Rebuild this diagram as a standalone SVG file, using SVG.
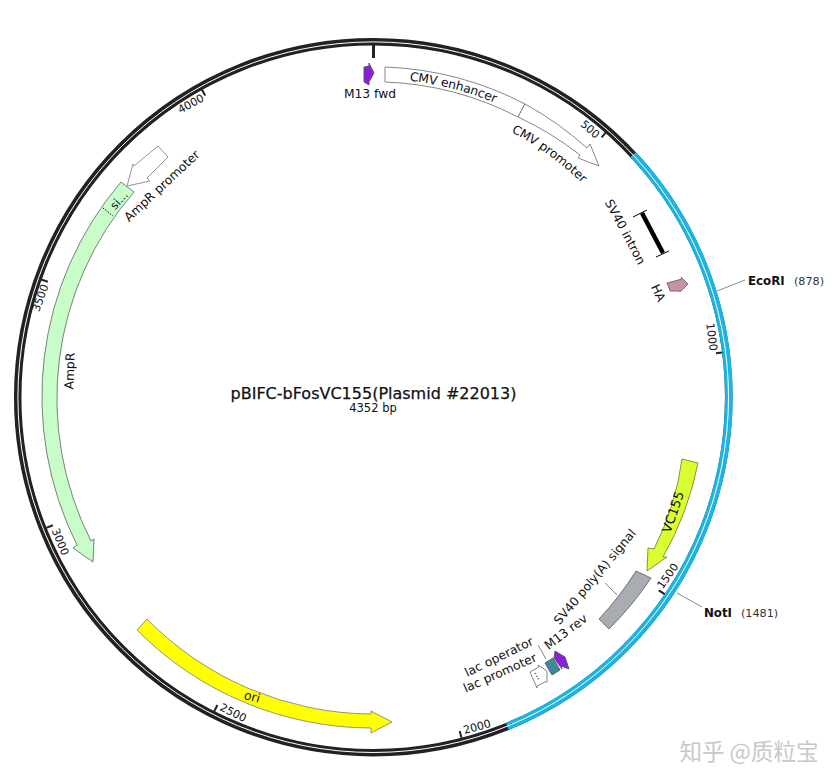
<svg xmlns="http://www.w3.org/2000/svg" width="839" height="784" viewBox="0 0 839 784">
<style>
text{font-family:"DejaVu Sans","Liberation Sans",sans-serif;font-size:12.3px;fill:#111;text-anchor:middle;dominant-baseline:central}
.tick{stroke:#222;stroke-width:2;fill:none}
.f{stroke-width:.9;stroke-linejoin:miter}
.lead{stroke:#888;stroke-width:1;fill:none}
.num{font-size:11px}
.site{font-weight:bold;font-size:11.8px;text-anchor:start}
.pos{font-size:11.2px;text-anchor:start;fill:#333}
</style>
<defs>
<path id="p-enh" d="M398.5 75.7A322.5 322.5 0 0 1 506.9 103.7"/>
<path id="p-pro" d="M505.6 124.6A303 303 0 0 1 590.8 186.3"/>
</defs>
<rect width="839" height="784" fill="#fff"/>
<g id="backbone">
<circle cx="373.2" cy="397.2" r="355.5" fill="none" stroke="#222" stroke-width="7.5"/>
<path d="M633.2 154.6A355.5 355.5 0 0 1 507.2 726.4" fill="none" stroke="#1db4e1" stroke-width="7.8"/>
<circle cx="373.2" cy="397.2" r="355.3" fill="none" stroke="#fff" stroke-width="1"/>
</g>
<g id="ticks">
<path class="tick" style="stroke-width:3" d="M373.5 45V58"/>
<path class="tick" d="M605.6 132.7L601.6 137.3M722.2 352.4L716 353.2M664.6 594.2L658.8 590.3M461.5 737.7L459.7 730.9M214.3 711.2L217.4 705M46.3 527.9L52.8 525.3M41.2 279.5L47.8 281.8M201.8 89.4L205.2 95.5"/>
<text class="num" transform="translate(590,129.5) rotate(41)">500</text>
<text class="num" transform="translate(711.5,337) rotate(83)">1000</text>
<text class="num" transform="translate(668,576) rotate(-55)">1500</text>
<text class="num" transform="translate(477,727) rotate(-15)">2000</text>
<text class="num" transform="translate(233,713) rotate(27)">2500</text>
<text class="num" transform="translate(60,542) rotate(68)">3000</text>
<text class="num" transform="translate(40.5,298) rotate(-70)">3500</text>
<text class="num" transform="translate(191,104) rotate(-29)">4000</text>
</g>
<g id="connectors">
<path class="lead" d="M717 291L745 280"/>
<path class="lead" d="M677 593L702 607"/>
<path class="lead" d="M605 583L617 595"/>
<path class="lead" d="M538 645L546 659"/>
</g>
<g id="m13-fwd">
<path class="f" fill="#8a1fe0" stroke="#555" d="M364 67L369 66L369 63L374 73L369 82L369 85L364 82Z"/>
<text x="370" y="94">M13 fwd</text>
</g>
<g id="cmv-enhancer">
<path class="f" fill="#fff" stroke="#777" d="M385 67A330 330 0 0 1 525 104L518 117A315 315 0 0 0 385 82Z"/>
<text><textPath href="#p-enh" startOffset="50%">CMV enhancer</textPath></text>
</g>
<g id="cmv-promoter">
<path class="f" fill="#fff" stroke="#777" d="M525 104A330 330 0 0 1 587 148L590 144L599 166L578 158L580 155A315 315 0 0 0 518 117Z"/>
<text><textPath href="#p-pro" startOffset="50%">CMV promoter</textPath></text>
</g>
<g id="sv40-intron">
<path fill="none" stroke="#000" stroke-width="4.5" d="M642 213L663 253"/>
<path fill="none" stroke="#000" stroke-width="1" d="M633 217L647 210M656 257L669 251"/>
<text transform="translate(625,232) rotate(62)">SV40 intron</text>
</g>
<g id="ha">
<path class="f" fill="#c891a9" stroke="#665" d="M667 283L682 279L681 277L688 284L680 292L679 291L670 291L669 288Z"/>
<text transform="translate(658,293) rotate(65)">HA</text>
</g>
<g id="ecori">
<text class="site" x="748" y="281">EcoRI</text>
<text class="pos" x="794" y="281">(878)</text>
</g>
<g id="noti">
<text class="site" x="704" y="613">NotI</text>
<text class="pos" x="741" y="613">(1481)</text>
</g>
<g id="vc155">
<path class="f" fill="#d9ff33" stroke="#778833" d="M682 459L698 463Q688 513 663 557L667 557L647 571L648 548L654 549Q676 505 682 459Z"/>
<text transform="translate(673,512) rotate(-71)" style="font-size:13px">VC155</text>
</g>
<g id="sv40-polya">
<path class="f" fill="#a9acb3" stroke="#666" d="M636 571L651 578A332 332 0 0 1 609 629L599 619A317 317 0 0 0 636 571Z"/>
<text transform="translate(595,577) rotate(-50)">SV40 poly(A) signal</text>
</g>
<g id="m13-rev">
<path class="f" fill="#8a1fe0" stroke="#555" d="M555 651L565 657L569 669L561 666L562 669L554 658Z"/>
<text transform="translate(566,632) rotate(-37)">M13 rev</text>
</g>
<g id="lac-operator">
<path class="f" fill="#3c8aa0" stroke="#555" d="M545 663L553 658L560 670L552 675Z"/>
<text transform="translate(499,657) rotate(-26)">lac operator</text>
</g>
<g id="lac-promoter">
<path class="f" fill="#fff" stroke="#777" d="M530 672L539 667L538 665L547 671L547 682L545 682L537 686L537 688Z"/>
<text transform="translate(539,675) rotate(62)" style="font-size:9px">...</text>
<text transform="translate(500,673) rotate(-24)">lac promoter</text>
</g>
<g id="ori">
<path class="f" fill="#ff0" stroke="#887" d="M147 619A317 317 0 0 0 371 714L371 711L392 722L371 733L371 728A331 331 0 0 1 137 630Z"/>
<text transform="translate(252,697) rotate(15)">ori</text>
</g>
<g id="ampr">
<path class="f" fill="#c8fcc8" stroke="#667766" d="M121 182A331 331 0 0 0 77 545L73 548L93 562L94 539L91 541A315 315 0 0 1 134 192Z"/>
<path fill="none" stroke="#111" stroke-width="1" stroke-dasharray="1.5 1.5" d="M103 208L113 216"/>
<text transform="translate(119,200) rotate(-48)" style="font-size:11.5px">si...</text>
<text transform="translate(70,371) rotate(-88)">AmpR</text>
</g>
<g id="ampr-promoter">
<path class="f" fill="#fff" stroke="#888" d="M158 146L168 157L147 178L150 181L127 186L133 164L134 166Z"/>
<text transform="translate(162,186) rotate(-43)">AmpR promoter</text>
</g>
<g id="title">
<text x="373.5" y="393" style="font-size:16px;stroke:#111;stroke-width:.25">pBIFC-bFosVC155(Plasmid #22013)</text>
<text x="373" y="408" style="font-size:11.5px">4352 bp</text>
</g>
<g id="watermark">
<text x="749" y="750" style="font-size:22.5px;fill:#c8c8c8;font-family:'Noto Sans CJK SC','DejaVu Sans',sans-serif">知乎 @质粒宝</text>
</g>
</svg>
